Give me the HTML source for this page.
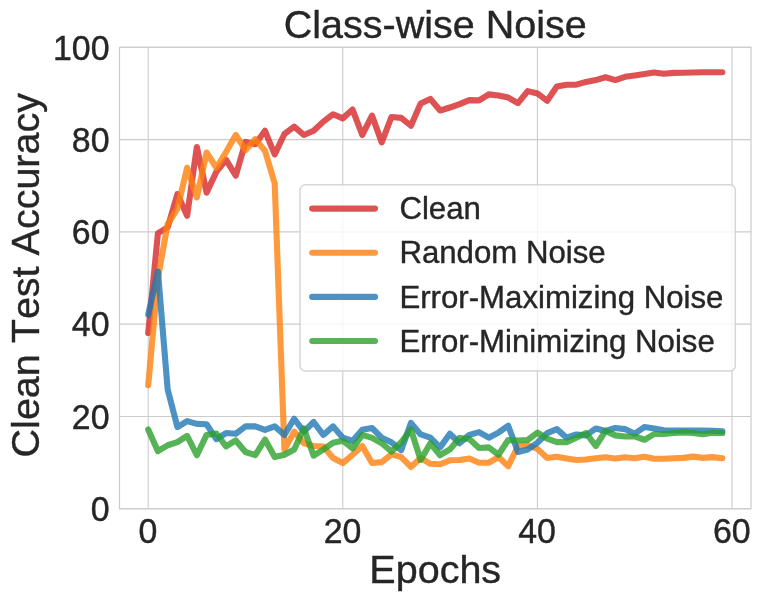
<!DOCTYPE html>
<html><head><meta charset="utf-8"><title>Class-wise Noise</title>
<style>html,body{margin:0;padding:0;background:#fff;}body{width:761px;height:602px;overflow:hidden;}svg{display:block;}text{font-family:'Liberation Sans', Arial, sans-serif;fill:#262626;font-kerning:none;stroke:#262626;stroke-width:0.4px;stroke-linejoin:round;}</style></head><body>
<svg width="761" height="602" viewBox="0 0 761 602">
<rect x="0" y="0" width="761" height="602" fill="#ffffff"/>
<line x1="148.20" y1="47.3" x2="148.20" y2="508.75" stroke="#cccccc" stroke-width="1.1"/>
<line x1="342.81" y1="47.3" x2="342.81" y2="508.75" stroke="#cccccc" stroke-width="1.1"/>
<line x1="537.42" y1="47.3" x2="537.42" y2="508.75" stroke="#cccccc" stroke-width="1.1"/>
<line x1="732.03" y1="47.3" x2="732.03" y2="508.75" stroke="#cccccc" stroke-width="1.1"/>
<line x1="119.5" y1="508.75" x2="751.0" y2="508.75" stroke="#cccccc" stroke-width="1.1"/>
<line x1="119.5" y1="416.46" x2="751.0" y2="416.46" stroke="#cccccc" stroke-width="1.1"/>
<line x1="119.5" y1="324.17" x2="751.0" y2="324.17" stroke="#cccccc" stroke-width="1.1"/>
<line x1="119.5" y1="231.88" x2="751.0" y2="231.88" stroke="#cccccc" stroke-width="1.1"/>
<line x1="119.5" y1="139.59" x2="751.0" y2="139.59" stroke="#cccccc" stroke-width="1.1"/>
<line x1="119.5" y1="47.30" x2="751.0" y2="47.30" stroke="#cccccc" stroke-width="1.1"/>
<polyline points="148.20,332.94 157.93,233.26 167.67,227.27 177.40,194.04 187.13,215.73 196.86,146.97 206.59,192.66 216.32,171.89 226.05,159.89 235.78,175.58 245.51,141.90 255.24,144.20 264.97,130.82 274.70,154.36 284.43,134.05 294.16,126.67 303.89,134.98 313.62,130.82 323.35,121.59 333.08,114.21 342.81,118.36 352.54,109.60 362.27,134.98 372.00,115.59 381.73,142.36 391.46,116.98 401.19,117.90 410.92,125.75 420.65,103.60 430.38,98.98 440.12,110.52 449.85,107.52 459.58,104.06 469.31,100.14 479.04,100.37 488.77,94.37 498.50,95.52 508.23,97.60 517.96,103.14 527.69,91.14 537.42,93.44 547.15,100.83 556.88,86.52 566.61,84.68 576.34,84.68 586.07,81.91 595.80,80.06 605.53,77.29 615.26,80.06 624.99,76.83 634.72,75.45 644.45,74.06 654.18,72.45 663.91,73.83 673.64,72.91 683.37,72.68 693.10,72.45 702.83,72.22 712.57,72.22 722.30,72.22" fill="none" stroke="#d62728" stroke-opacity="0.8" stroke-width="6.1" stroke-linecap="round" stroke-linejoin="round"/>
<polyline points="148.20,385.31 157.93,278.02 167.67,224.04 177.40,208.81 187.13,167.74 196.86,197.27 206.59,152.51 216.32,167.74 226.05,152.05 235.78,134.98 245.51,150.20 255.24,139.13 264.97,150.66 274.70,183.43 284.43,449.45 294.16,431.69 303.89,443.22 313.62,445.99 323.35,446.45 333.08,457.99 342.81,463.07 352.54,454.76 362.27,445.99 372.00,463.07 381.73,462.14 391.46,454.30 401.19,457.07 410.92,466.94 420.65,457.99 430.38,463.76 440.12,464.22 449.85,460.30 459.58,459.97 469.31,458.45 479.04,462.74 488.77,462.74 498.50,457.07 508.23,466.30 517.96,445.99 527.69,445.25 537.42,448.85 547.15,457.99 556.88,456.84 566.61,458.45 576.34,459.97 586.07,459.56 595.80,458.31 605.53,457.25 615.26,458.45 624.99,457.25 634.72,458.31 644.45,456.84 654.18,458.68 663.91,458.68 673.64,458.22 683.37,457.90 693.10,456.65 702.83,457.90 712.57,457.11 722.30,458.22" fill="none" stroke="#ff7f0e" stroke-opacity="0.8" stroke-width="6.1" stroke-linecap="round" stroke-linejoin="round"/>
<polyline points="148.20,314.71 157.93,271.56 167.67,389.47 177.40,427.07 187.13,421.07 196.86,423.84 206.59,424.30 216.32,439.07 226.05,433.07 235.78,433.72 245.51,426.38 255.24,426.38 264.97,429.84 274.70,426.38 284.43,434.92 294.16,418.77 303.89,431.69 313.62,422.00 323.35,434.92 333.08,426.38 342.81,437.69 352.54,440.92 362.27,429.84 372.00,428.00 381.73,437.69 391.46,442.30 401.19,450.15 410.92,422.92 420.65,434.46 430.38,437.69 440.12,447.38 449.85,433.72 459.58,443.22 469.31,434.92 479.04,432.15 488.77,437.69 498.50,432.61 508.23,425.69 517.96,451.99 527.69,449.45 537.42,442.76 547.15,433.07 556.88,429.10 566.61,437.69 576.34,434.46 586.07,435.38 595.80,428.46 605.53,431.00 615.26,428.00 624.99,429.10 634.72,433.72 644.45,427.07 654.18,428.46 663.91,430.30 673.64,430.53 683.37,430.53 693.10,430.53 702.83,430.67 712.57,430.76 722.30,431.23" fill="none" stroke="#1f77b4" stroke-opacity="0.8" stroke-width="6.1" stroke-linecap="round" stroke-linejoin="round"/>
<polyline points="148.20,429.52 157.93,451.16 167.67,445.25 177.40,442.12 187.13,435.84 196.86,455.22 206.59,434.92 216.32,433.53 226.05,446.45 235.78,440.46 245.51,451.99 255.24,455.22 264.97,439.53 274.70,457.07 284.43,454.76 294.16,449.45 303.89,428.46 313.62,455.68 323.35,449.45 333.08,442.76 342.81,440.69 352.54,448.44 362.27,434.92 372.00,437.92 381.73,443.22 391.46,451.53 401.19,442.30 410.92,429.52 420.65,459.97 430.38,443.22 440.12,455.22 449.85,449.45 459.58,437.92 469.31,439.07 479.04,448.02 488.77,447.38 498.50,454.76 508.23,439.99 517.96,440.46 527.69,439.99 537.42,432.61 547.15,438.61 556.88,442.12 566.61,442.12 576.34,437.69 586.07,433.07 595.80,445.99 605.53,431.00 615.26,435.38 624.99,436.44 634.72,436.44 644.45,439.76 654.18,434.00 663.91,434.00 673.64,433.07 683.37,432.38 693.10,433.07 702.83,434.23 712.57,432.84 722.30,433.07" fill="none" stroke="#2ca02c" stroke-opacity="0.8" stroke-width="6.1" stroke-linecap="round" stroke-linejoin="round"/>
<rect x="119.5" y="47.3" width="631.50" height="461.45" fill="none" stroke="#cccccc" stroke-width="1.2"/>
<text transform="translate(147.90,543.4) scale(1,1.055)" font-size="33.9" text-anchor="middle">0</text>
<text transform="translate(342.51,543.4) scale(1,1.055)" font-size="33.9" text-anchor="middle">20</text>
<text transform="translate(537.12,543.4) scale(1,1.055)" font-size="33.9" text-anchor="middle">40</text>
<text transform="translate(731.73,543.4) scale(1,1.055)" font-size="33.9" text-anchor="middle">60</text>
<text transform="translate(109.5,521.05) scale(1,1.055)" font-size="33.9" text-anchor="end">0</text>
<text transform="translate(109.5,428.76) scale(1,1.055)" font-size="33.9" text-anchor="end">20</text>
<text transform="translate(109.5,336.47) scale(1,1.055)" font-size="33.9" text-anchor="end">40</text>
<text transform="translate(109.5,244.18) scale(1,1.055)" font-size="33.9" text-anchor="end">60</text>
<text transform="translate(109.5,151.89) scale(1,1.055)" font-size="33.9" text-anchor="end">80</text>
<text transform="translate(109.5,59.60) scale(1,1.055)" font-size="33.9" text-anchor="end">100</text>
<text x="435.25" y="37.5" font-size="39.5" text-anchor="middle">Class-wise Noise</text>
<text x="435.25" y="582.8" font-size="39.5" text-anchor="middle">Epochs</text>
<text transform="translate(39.0,275.22) rotate(-90)" font-size="39.5" text-anchor="middle">Clean Test Accuracy</text>
<rect x="300.0" y="184.65" width="435.30" height="186.35" rx="5.3" ry="5.3" fill="#ffffff" fill-opacity="0.8" stroke="#cccccc" stroke-opacity="0.8" stroke-width="1.5"/>
<line x1="312.2" y1="208.60" x2="375.0" y2="208.60" stroke="#d62728" stroke-opacity="0.8" stroke-width="6.1" stroke-linecap="round"/>
<text x="399.4" y="219.30" font-size="31.2">Clean</text>
<line x1="312.2" y1="252.75" x2="375.0" y2="252.75" stroke="#ff7f0e" stroke-opacity="0.8" stroke-width="6.1" stroke-linecap="round"/>
<text x="399.4" y="263.45" font-size="31.2">Random Noise</text>
<line x1="312.2" y1="296.90" x2="375.0" y2="296.90" stroke="#1f77b4" stroke-opacity="0.8" stroke-width="6.1" stroke-linecap="round"/>
<text x="399.4" y="307.60" font-size="31.2">Error-Maximizing Noise</text>
<line x1="312.2" y1="341.05" x2="375.0" y2="341.05" stroke="#2ca02c" stroke-opacity="0.8" stroke-width="6.1" stroke-linecap="round"/>
<text x="399.4" y="351.75" font-size="31.2">Error-Minimizing Noise</text>
</svg></body></html>
